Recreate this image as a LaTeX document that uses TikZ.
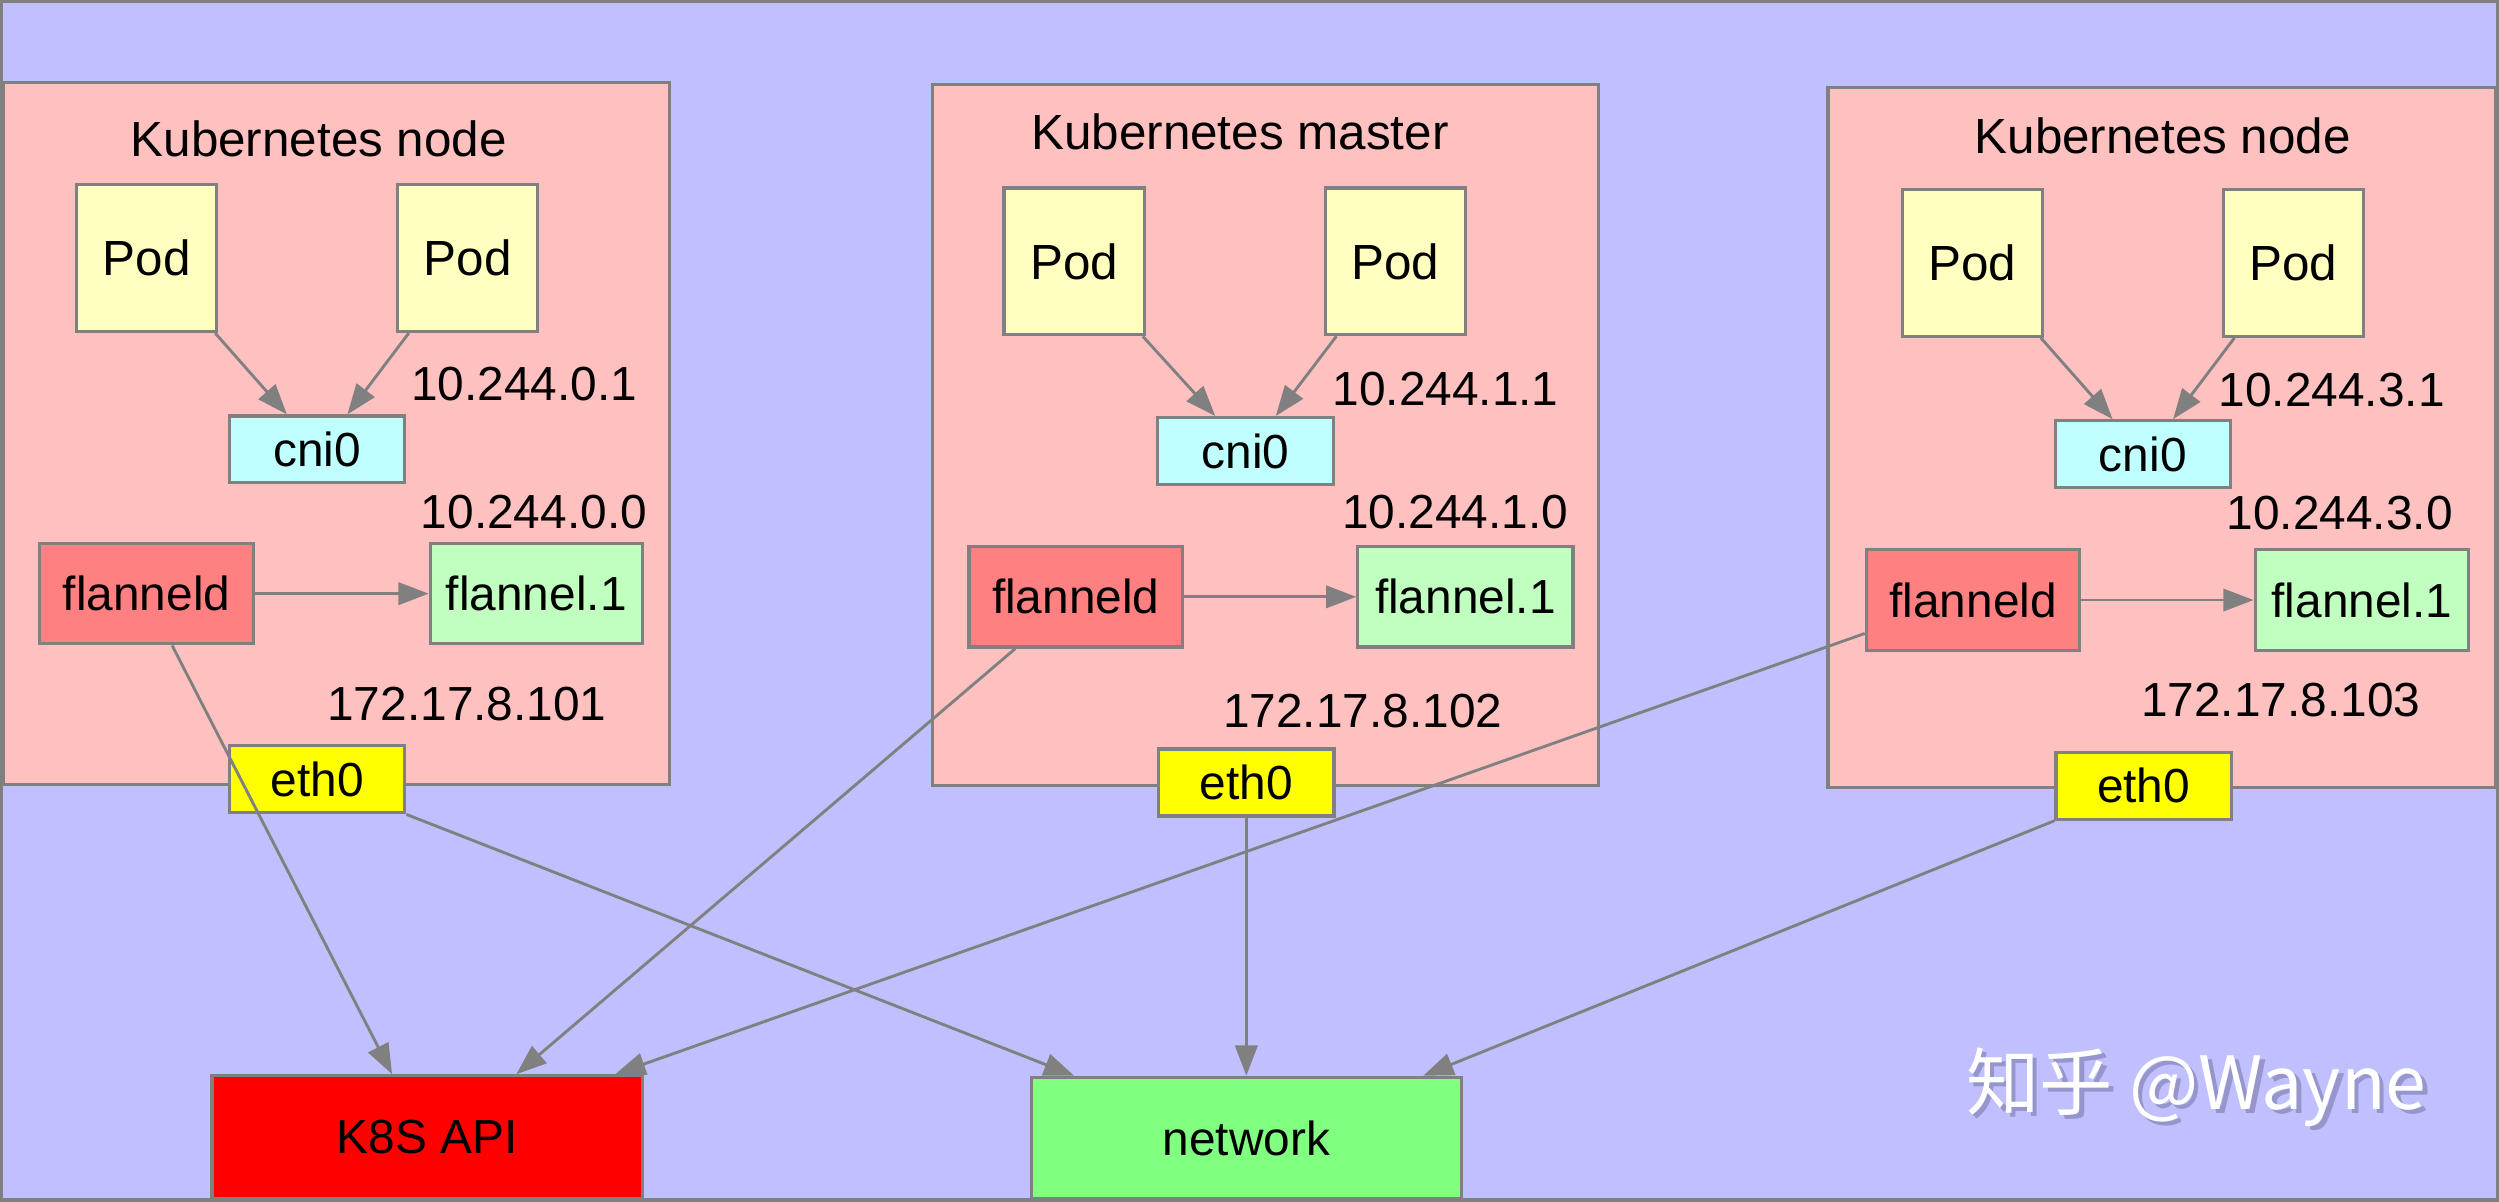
\documentclass[tikz,border=0pt]{standalone}
\usepackage{fontspec}
\setmainfont{Liberation Sans}
\newfontfamily\cjk{Noto Sans CJK SC}
\usetikzlibrary{arrows.meta,calc}
\definecolor{bgc}{RGB}{192,192,255}
\definecolor{hostc}{RGB}{255,192,192}
\definecolor{podc}{RGB}{255,255,192}
\definecolor{cnic}{RGB}{192,255,255}
\definecolor{fldc}{RGB}{255,128,128}
\definecolor{flc}{RGB}{192,255,192}
\definecolor{ethc}{RGB}{255,255,0}
\definecolor{apic}{RGB}{255,0,0}
\definecolor{netc}{RGB}{128,255,128}
\definecolor{edgec}{RGB}{128,128,128}
\definecolor{shadc}{RGB}{150,150,205}
\tikzset{
  box/.style={draw=edgec, line width=2pt, inner sep=0pt, font=\fontsize{30}{36}\selectfont},
  hostbox/.style={box, fill=hostc, minimum width=418pt, minimum height=440pt},
  podbox/.style={box, fill=podc, minimum width=88pt, minimum height=92pt, font=\fontsize{31}{36}\selectfont},
  cnibox/.style={box, fill=cnic, minimum width=110pt, minimum height=42pt},
  fldbox/.style={box, fill=fldc, minimum width=134pt, minimum height=63pt},
  flbox/.style={box, fill=flc, minimum width=134pt, minimum height=63pt},
  ethbox/.style={box, fill=ethc, minimum width=110pt, minimum height=42pt},
  bigbox/.style={box, minimum width=270pt, minimum height=77pt},
  lbl/.style={inner sep=0pt, font=\fontsize{30}{36}\selectfont},
  ttl/.style={inner sep=0pt, font=\fontsize{31}{36}\selectfont},
  arr/.style={draw=edgec, line width=1.8pt, -{Triangle[length=19pt,width=14pt]}, fill=edgec},
}
\begin{document}
\begin{tikzpicture}[x=1pt,y=1pt]
\useasboundingbox (0,0) rectangle (1568,754);
\fill[bgc] (0,0) rectangle (1568,754);
\draw[edgec, line width=2pt] (1,1) rectangle (1567,753);

% host boxes
\node[hostbox] (lh) at (211,482) {};
\node[hostbox] (mh) at (794,481) {};
\node[hostbox, minimum width=419pt, minimum height=439pt] (rh) at (1356.5,479.5) {};

\node[ttl] (lt) at (200,667) {Kubernetes node};
\node[ttl] (mt) at (778,671) {Kubernetes master};
\node[ttl] (rt) at (1357,669) {Kubernetes node};

% left node
\node[podbox] (lp1) at (92,592) {Pod};
\node[podbox] (lp2) at (293.5,592) {Pod};
\node[cnibox] (lc) at (199,472) {cni0};
\node[lbl] (lip1) at (329,513) {10.244.0.1};
\node[lbl] (lip0) at (335,433) {10.244.0.0};
\node[fldbox] (lf) at (92,381.5) {flanneld};
\node[flbox, minimum width=133pt] (lfl) at (336.5,381.5) {flannel.1};
\node[lbl] (lipe) at (293,312) {172.17.8.101};
\node[ethbox] (le) at (199,265) {eth0};

% master
\node[podbox] (mp1) at (674,590) {Pod};
\node[podbox] (mp2) at (875.5,590) {Pod};
\node[cnibox] (mc) at (781.5,471) {cni0};
\node[lbl] (mip1) at (907,510) {10.244.1.1};
\node[lbl] (mip0) at (913,433) {10.244.1.0};
\node[fldbox] (mf) at (675,379.5) {flanneld};
\node[flbox, minimum width=135pt] (mfl) at (919.5,379.5) {flannel.1};
\node[lbl] (mipe) at (855,308) {172.17.8.102};
\node[ethbox] (me) at (782,263) {eth0};

% right node
\node[podbox] (rp1) at (1237.5,589) {Pod};
\node[podbox] (rp2) at (1439,589) {Pod};
\node[cnibox] (rc) at (1344.5,469) {cni0};
\node[lbl] (rip1) at (1463,509) {10.244.3.1};
\node[lbl] (rip0) at (1468,432) {10.244.3.0};
\node[fldbox] (rf) at (1238,377.5) {flanneld};
\node[flbox] (rfl) at (1482,377.5) {flannel.1};
\node[lbl] (ripe) at (1431,315) {172.17.8.103};
\node[ethbox] (re) at (1345,261) {eth0};

% bottom
\node[bigbox, fill=apic] (api) at (268,40.5) {K8S API};
\node[bigbox, fill=netc, minimum height=76pt] (net) at (782,40) {network};

% watermark
\node[inner sep=0pt, text=shadc, font=\cjk\fontsize{46}{50}\selectfont] (wms) at (1381,69) {知乎 @Wayne};
\node[inner sep=0pt, text=white, font=\cjk\fontsize{46}{50}\selectfont] (wm) at (1378,72) {知乎 @Wayne};

% arrows inside hosts
\foreach \h in {l,m,r}{
  \draw[arr] ($(\h p1.south east)+(-2,0)$) -- ($(\h c.north)+(-19,0)$);
  \draw[arr] ($(\h p2.south west)+(8,0)$) -- ($(\h c.north)+(19,0)$);
  \draw[arr] (\h f.east) -- (\h fl.west);
}

% arrows to K8S API
\draw[arr] ($(lf.south)+(16,0)$) -- ($(api.north)+(-22,0)$);
\draw[arr] ($(mf.south)+(-38,0)$) -- ($(api.north)+(56,0)$);
\draw[arr] ($(rf.west)+(0,-21)$) -- ($(api.north)+(118,0)$);

% arrows to network
\draw[arr] (le.south east) -- ($(net.north)+(-108,0)$);
\draw[arr] (me.south) -- (net.north);
\draw[arr] (re.south west) -- ($(net.north)+(111,0)$);
\end{tikzpicture}
\end{document}
